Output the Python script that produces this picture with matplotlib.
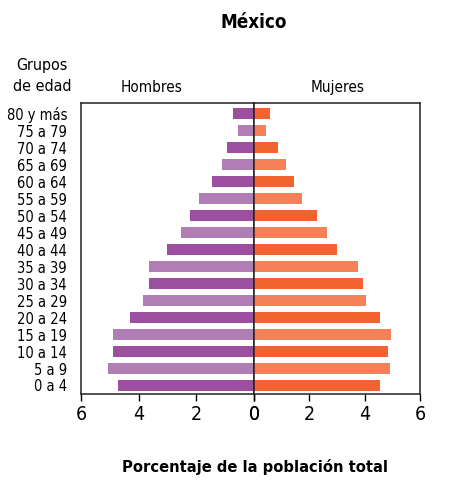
import matplotlib.pyplot as plt
import numpy as np

plt.rcParams['font.family'] = ['DejaVu Sans']
plt.rcParams['font.stretch'] = 'condensed'

grupos = ['0 a 4', '5 a 9', '10 a 14', '15 a 19', '20 a 24', '25 a 29', '30 a 34',
          '35 a 39', '40 a 44', '45 a 49', '50 a 54', '55 a 59', '60 a 64',
          '65 a 69', '70 a 74', '75 a 79', '80 y más']
hombres = [4.71, 5.08, 4.90, 4.90, 4.29, 3.84, 3.65, 3.65, 3.01, 2.53, 2.23,
           1.91, 1.47, 1.11, 0.95, 0.54, 0.74]
mujeres = [4.57, 4.91, 4.86, 4.95, 4.57, 4.06, 3.93, 3.75, 2.99, 2.64, 2.27,
           1.73, 1.43, 1.16, 0.86, 0.43, 0.58]

y = np.arange(len(grupos))
col_h = ['#9c4f9f' if i % 2 == 0 else '#b07db5' for i in y]
col_m = ['#f2632f' if i % 2 == 0 else '#f68158' for i in y]

fig = plt.figure(figsize=(4.5, 4.84), dpi=100)
ax1 = fig.add_axes([0.18, 0.186, 0.3844, 0.6006])
ax2 = fig.add_axes([0.5644, 0.186, 0.3689, 0.6006])

ax1.barh(y, hombres, height=0.64, color=col_h)
ax2.barh(y, mujeres, height=0.64, color=col_m)

for ax in (ax1, ax2):
    ax.set_xlim(0, 6)
    ax.set_ylim(-0.5, 16.62)
    ax.set_xticks([0, 2, 4, 6])
    ax.tick_params(axis='x', labelsize=14, length=5, width=1, pad=3)
    for s in ax.spines.values():
        s.set_linewidth(1.1)
        s.set_color('#222222')
ax1.invert_xaxis()
ax1.set_yticks(y)
ax1.set_yticklabels(grupos, fontsize=10.5)
ax1.tick_params(axis='y', length=0, pad=10)
ax2.set_yticks([])

fig.text(0.565, 0.953, 'México', ha='center', va='center', fontsize=13.5, fontweight='bold')
fig.text(0.093, 0.843, 'Grupos\nde edad', ha='center', va='center', fontsize=11.5,
         linespacing=1.45, multialignment='center')
fig.text(0.337, 0.82, 'Hombres', ha='center', va='center', fontsize=11)
fig.text(0.75, 0.82, 'Mujeres', ha='center', va='center', fontsize=11)
fig.text(0.567, 0.035, 'Porcentaje de la población total', ha='center', va='center',
         fontsize=11.8, fontweight='bold')

fig.savefig('out.png', dpi=100)
